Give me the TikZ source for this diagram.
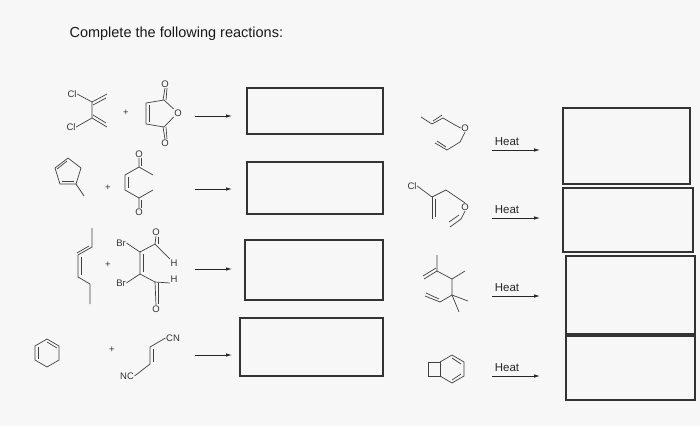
\documentclass[tikz,border=0pt]{standalone}
\usepackage{fontspec}
\setmainfont{Liberation Sans}
\begin{document}
\begin{tikzpicture}[x=1pt,y=-1pt,
  bond/.style={draw=black!75,line width=0.7pt},
  atom/.style={font=\fontsize{9.5}{10}\selectfont,text=black!80,inner sep=0.5pt},
  box/.style={draw=black!80,line width=1.2pt},
  rarrow/.style={draw=black!85,line width=0.8pt,-{Latex[length=6pt,width=3.5pt]}},
  heat/.style={font=\fontsize{11.5}{12}\selectfont,text=black!85}]
\usetikzlibrary{arrows.meta}
\fill[black!3] (0,0) rectangle (700,426);
\useasboundingbox (0,0) rectangle (700,426);
\node[anchor=west,font=\fontsize{14.5}{16}\selectfont,text=black!90] (title) at (66,34) {Complete the following reactions:};
% boxes
\draw[box] (247,88) rectangle (383,134);
\draw[box] (247,162) rectangle (383,214);
\draw[box] (245,240) rectangle (383,300);
\draw[box] (240,318) rectangle (383,376);
\draw[box] (563,108) rectangle (690,184);
\draw[box] (563,188) rectangle (693,252);
\draw[box] (566,256) rectangle (695,334);
\draw[box] (566,336) rectangle (695,400);
% left arrows
\foreach \y/\n in {116/a,189/b,269/c,355/d}{
  \coordinate (la\n) at (195,\y); \coordinate (lb\n) at (232,\y);
  \draw[rarrow] (la\n) -- (lb\n);}
\foreach \y/\n in {150/a,218/b,296/c,376/d}{
  \coordinate (ra\n) at (492,\y); \coordinate (rb\n) at (540,\y);
  \draw[rarrow] (ra\n) -- (rb\n);
  \node[heat,anchor=south] (h\n) at (507,\y-1) {Heat};}
% plus signs
\foreach \x/\y/\n in {126/113/a,108/188/b,108/265/c,112/350/d}
  \node[atom] (p\n) at (\x,\y) {+};
% --- molecule 1: dichlorobutadiene
\node[atom] (cl1) at (72,94) {Cl};
\node[atom] (cl2) at (71,127) {Cl};
\draw[bond] (cl1.east) -- (92,102) -- (92,118) -- (cl2.east);
\draw[bond] (92,102) -- (107,94); \draw[bond] (93,105) -- (106,98);
\draw[bond] (92,118) -- (107,127); \draw[bond] (93,115) -- (106,123);
% maleic anhydride
\node[atom] (mo) at (178,113) {O};
\node[atom] (mo1) at (165,84) {O};
\node[atom] (mo2) at (165,143) {O};
\draw[bond] (mo.north west) -- (164,100) -- (146,103) -- (146,124) -- (164,127) -- (mo.south west);
\draw[bond] (149,105) -- (149,122);
\draw[bond] (163,100) -- (mo1.south); \draw[bond] (166,100) -- (167,88);
\draw[bond] (163,127) -- (mo2.north); \draw[bond] (166,127) -- (167,139);
% --- molecule 2: methylcyclopentadiene
\draw[bond] (68,158) -- (81,168) -- (76,184) -- (60,184) -- (55,168) -- cycle;
\draw[bond] (67,161) -- (57,169);
\draw[bond] (62,181) -- (74,181);
\draw[bond] (76,184) -- (84,196);
% hexenedione
\node[atom] (o21) at (139,154) {O};
\node[atom] (o22) at (139,212) {O};
\draw[bond] (o21.south) -- (139,167) -- (125,175) -- (125,190) -- (139,198) -- (o22.north);
\draw[bond] (141,158) -- (141,166); \draw[bond] (141,200) -- (141,208);
\draw[bond] (128,177) -- (128,188);
\draw[bond] (139,167) -- (153,175); \draw[bond] (139,198) -- (153,190);
% --- molecule 3: hexadiene
\draw[bond] (92,228) -- (92,247) -- (78,255) -- (78,277) -- (90,284) -- (90,304);
\draw[bond] (89,246) -- (77,253) ;
\draw[bond] (81,257) -- (81,275);
% dibromomaleic dialdehyde
\node[atom] (br1) at (121,243) {Br};
\node[atom] (br2) at (121,283) {Br};
\node[atom] (o31) at (156,232) {O};
\node[atom] (o32) at (156,309) {O};
\node[atom] (h31) at (174,263) {H};
\node[atom] (h32) at (174,279) {H};
\draw[bond] (br1.east) -- (140,252) -- (140,274) -- (br2.east);
\draw[bond] (143,254) -- (143,272);
\draw[bond] (140,252) -- (155,244) -- (o31.south); \draw[bond] (158,244) -- (158,237);
\draw[bond] (155,244) -- (h31.north west);
\draw[bond] (140,274) -- (155,282) -- (o32.north); \draw[bond] (158,283) -- (158,304);
\draw[bond] (155,282) -- (h32.south west);
% --- molecule 4: cyclohexadiene
\draw[bond] (47,339) -- (59,346) -- (59,360) -- (47,367) -- (35,360) -- (35,346) -- cycle;
\draw[bond] (38,347) -- (38,359);
\draw[bond] (47,342) -- (57,348);
% fumaronitrile
\node[atom] (nc) at (127,376) {NC};
\node[atom] (cn) at (173,338) {CN};
\draw[bond] (nc.east) -- (150,364) -- (150,347) -- (cn.west);
\draw[bond] (153,362) -- (153,349);
% --- R1 allyl vinyl ether
\node[atom] (ro1) at (465,128) {O};
\draw[bond] (421,117) -- (432,124) -- (443,118) -- (455,125) -- (ro1.west);
\draw[bond] (433,121) -- (442,115);
\draw[bond] (ro1.south) -- (460,142) -- (447,150) -- (435,143);
\draw[bond] (446,147) -- (437,141);
% --- R2
\node[atom] (rcl) at (412,186) {Cl};
\node[atom] (ro2) at (465,207) {O};
\draw[bond] (rcl.east) -- (432,197) -- (446,190) -- (ro2.north);
\draw[bond] (432,197) -- (432,219); \draw[bond] (435,199) -- (435,217);
\draw[bond] (ro2.south) -- (461,219) -- (450,227);
\draw[bond] (459,215) -- (449,222);
% --- R3
\draw[bond] (437,255) -- (437,271) -- (424,279);
\draw[bond] (436,268) -- (423,276);
\draw[bond] (437,271) -- (452,279) -- (465,271);
\draw[bond] (452,279) -- (452,295) -- (468,301);
\draw[bond] (452,295) -- (459,312);
\draw[bond] (452,295) -- (440,302) -- (425,296);
\draw[bond] (439,299) -- (426,293);
% --- R4 bicyclooctatriene
\draw[bond] (428,362) rectangle (440,376);
\draw[bond] (440,362) -- (452,355) -- (464,362) -- (464,376) -- (452,383) -- (440,376);
\draw[bond] (452,358) -- (461,364);
\draw[bond] (452,380) -- (461,374);
\end{tikzpicture}
\end{document}
